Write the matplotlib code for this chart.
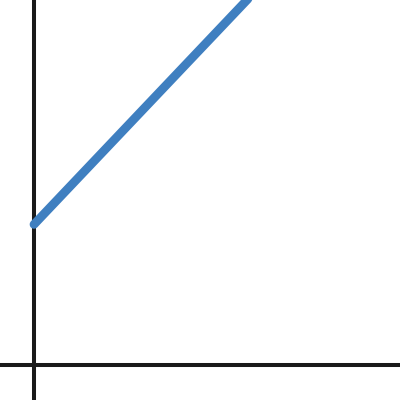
import matplotlib
matplotlib.use("Agg")
import matplotlib.pyplot as plt

# data
x_vals = [0, 8]
y_vals = [4.12, 12.55]

fig = plt.figure(figsize=(4, 4), dpi=100)
ax = fig.add_axes([0, 0, 1, 1])
ax.set_xlim(-1.0, 400 / 34 - 1.0)
ax.set_ylim(-35.5 / 34, 364.5 / 34)
ax.axis("off")

ax.axvline(0, color="#1a1a1a", lw=2.9, zorder=1)
ax.axhline(0, color="#1a1a1a", lw=2.9, zorder=1)
ax.plot(x_vals, y_vals, color="#3f7fc0", lw=6.3, solid_capstyle="round", zorder=2)

fig.savefig("out.png", dpi=100)
